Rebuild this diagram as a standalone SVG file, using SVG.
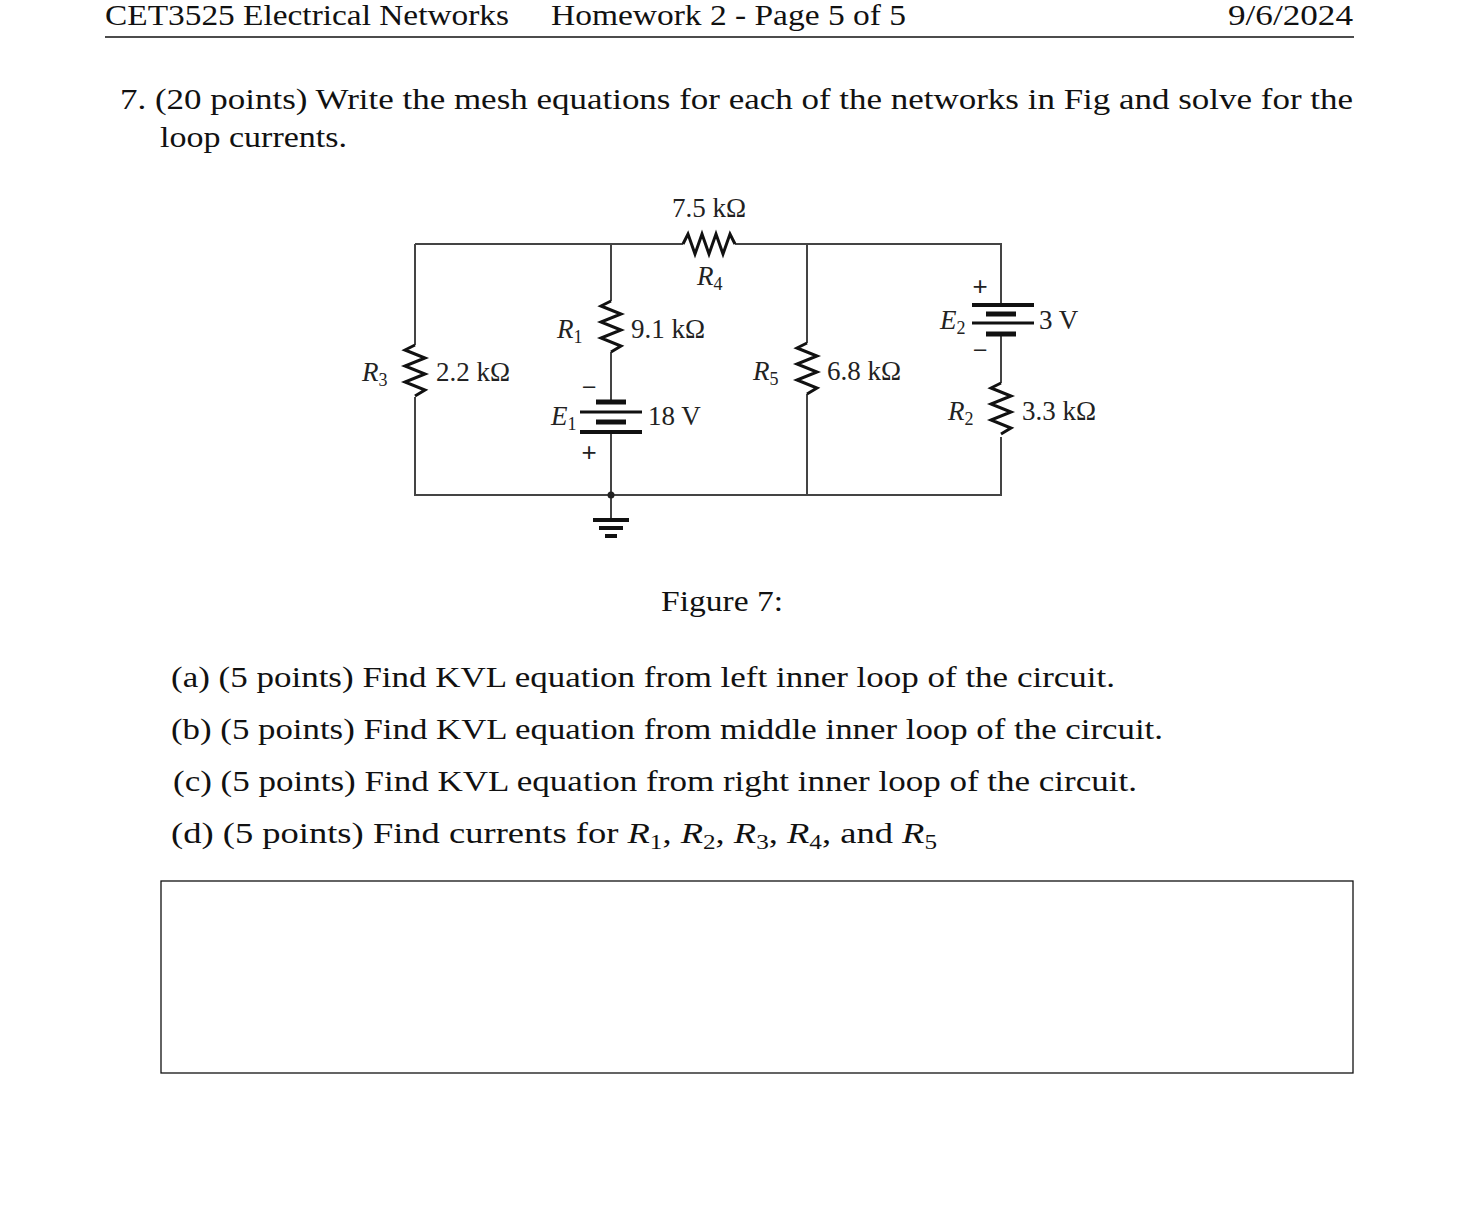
<svg xmlns="http://www.w3.org/2000/svg" width="1472" height="1212" viewBox="0 0 1472 1212">
<style>
.t{font-family:"Liberation Serif","DejaVu Serif",serif;font-size:29px;fill:#111}
.c{font-family:"Liberation Serif",serif;font-size:27px;fill:#222}
.s{font-family:"Liberation Sans",sans-serif;fill:#222}
.w{fill:none;stroke:#444;stroke-width:2}
.z{fill:none;stroke:#111;stroke-width:3;stroke-linejoin:miter}
.p{stroke:#111}
</style>
<rect width="1472" height="1212" fill="#fff"/>
<g id="header">
<text class="t" x="105" y="25" textLength="404" lengthAdjust="spacingAndGlyphs">CET3525 Electrical Networks</text>
<text class="t" x="551" y="25" textLength="355" lengthAdjust="spacingAndGlyphs">Homework 2 - Page 5 of 5</text>
<text class="t" x="1228" y="25" textLength="125" lengthAdjust="spacingAndGlyphs">9/6/2024</text>
<line x1="105" y1="37" x2="1354" y2="37" stroke="#111" stroke-width="1.3"/>
</g>
<g id="question">
<text class="t" x="120" y="109" textLength="1233" lengthAdjust="spacingAndGlyphs">7. (20 points)  Write the mesh equations for each of the networks in Fig and solve for the</text>
<text class="t" x="160" y="147" textLength="187" lengthAdjust="spacingAndGlyphs">loop currents.</text>
</g>
<g id="connectors">
<path class="w" d="M415,244H683 M735,244H1001V305 M1001,334V383 M1001,437V495H415V397 M415,345V244 M611,244V301 M611,352V402 M611,432V495 M611,495V520 M807,244V343 M807,394V495"/>
<circle cx="611" cy="495" r="3.5" fill="#222"/>
</g>
<g id="R4">
<path class="z" d="M683,244l5,-10l7,20l7,-20l7,20l7,-20l7,20l7,-20l5,10"/>
<text class="c" x="709" y="217" text-anchor="middle">7.5 kΩ</text>
<text class="c" x="697" y="285"><tspan font-style="italic">R</tspan><tspan style="font-size:18px" dy="5">4</tspan></text>
</g>
<g id="R1">
<path class="z" d="M611,301l-10,5l20,8l-20,8l20,8l-20,8l20,8l-10,6"/>
<text class="c" x="557" y="338"><tspan font-style="italic">R</tspan><tspan style="font-size:18px" dy="5">1</tspan></text>
<text class="c" x="631" y="338">9.1 kΩ</text>
</g>
<g id="R3">
<path class="z" d="M415,345l-10,5l20,8l-20,8l20,8l-20,8l20,8l-10,6"/>
<text class="c" x="362" y="381"><tspan font-style="italic">R</tspan><tspan style="font-size:18px" dy="5">3</tspan></text>
<text class="c" x="436" y="381">2.2 kΩ</text>
</g>
<g id="E1">
<line class="p" x1="596" y1="402" x2="626" y2="402" stroke-width="5"/>
<line class="p" x1="580" y1="412" x2="642" y2="412" stroke-width="3"/>
<line class="p" x1="596" y1="422" x2="626" y2="422" stroke-width="5"/>
<line class="p" x1="580" y1="432" x2="642" y2="432" stroke-width="4"/>
<text class="s" x="589" y="393" text-anchor="middle" style="font-size:22px">–</text>
<text class="s" x="589" y="461" text-anchor="middle" style="font-size:26px">+</text>
<text class="c" x="551" y="425"><tspan font-style="italic">E</tspan><tspan style="font-size:18px" dy="5">1</tspan></text>
<text class="c" x="648" y="425">18 V</text>
</g>
<g id="ground">
<line class="p" x1="593" y1="520" x2="629" y2="520" stroke-width="4"/>
<line class="p" x1="599" y1="528" x2="623" y2="528" stroke-width="4"/>
<line class="p" x1="605" y1="536" x2="617" y2="536" stroke-width="4"/>
</g>
<g id="R5">
<path class="z" d="M807,343l-10,5l20,8l-20,8l20,8l-20,8l20,8l-10,6"/>
<text class="c" x="753" y="380"><tspan font-style="italic">R</tspan><tspan style="font-size:18px" dy="5">5</tspan></text>
<text class="c" x="827" y="380">6.8 kΩ</text>
</g>
<g id="E2">
<line class="p" x1="972" y1="305" x2="1034" y2="305" stroke-width="4"/>
<line class="p" x1="986" y1="314" x2="1016" y2="314" stroke-width="5"/>
<line class="p" x1="972" y1="323" x2="1034" y2="323" stroke-width="3"/>
<line class="p" x1="986" y1="334" x2="1016" y2="334" stroke-width="5"/>
<text class="s" x="980" y="295" text-anchor="middle" style="font-size:26px">+</text>
<text class="s" x="980" y="356" text-anchor="middle" style="font-size:22px">–</text>
<text class="c" x="940" y="329"><tspan font-style="italic">E</tspan><tspan style="font-size:18px" dy="5">2</tspan></text>
<text class="c" x="1039" y="329">3 V</text>
</g>
<g id="R2">
<path class="z" d="M1001,383l-10,5l20,8l-20,8l20,8l-20,8l20,8l-10,6"/>
<text class="c" x="948" y="420"><tspan font-style="italic">R</tspan><tspan style="font-size:18px" dy="5">2</tspan></text>
<text class="c" x="1022" y="420">3.3 kΩ</text>
</g>
<g id="caption">
<text class="t" x="661" y="611" textLength="122" lengthAdjust="spacingAndGlyphs">Figure 7:</text>
</g>
<g id="parts">
<text class="t" x="171" y="687" textLength="944" lengthAdjust="spacingAndGlyphs">(a)  (5 points)  Find KVL equation from left inner loop of the circuit.</text>
<text class="t" x="171" y="739" textLength="992" lengthAdjust="spacingAndGlyphs">(b)  (5 points)  Find KVL equation from middle inner loop of the circuit.</text>
<text class="t" x="173" y="791" textLength="964" lengthAdjust="spacingAndGlyphs">(c)  (5 points)  Find KVL equation from right inner loop of the circuit.</text>
<text class="t" x="171" y="843" textLength="766" lengthAdjust="spacingAndGlyphs">(d)  (5 points)  Find currents for <tspan font-style="italic">R</tspan><tspan style="font-size:20px" dy="6">1</tspan><tspan dy="-6">, </tspan><tspan font-style="italic">R</tspan><tspan style="font-size:20px" dy="6">2</tspan><tspan dy="-6">, </tspan><tspan font-style="italic">R</tspan><tspan style="font-size:20px" dy="6">3</tspan><tspan dy="-6">, </tspan><tspan font-style="italic">R</tspan><tspan style="font-size:20px" dy="6">4</tspan><tspan dy="-6">, and </tspan><tspan font-style="italic">R</tspan><tspan style="font-size:20px" dy="6">5</tspan></text>
</g>
<g id="answerbox">
<rect x="161" y="881" width="1192" height="192" fill="none" stroke="#111" stroke-width="1.3"/>
</g>
</svg>
